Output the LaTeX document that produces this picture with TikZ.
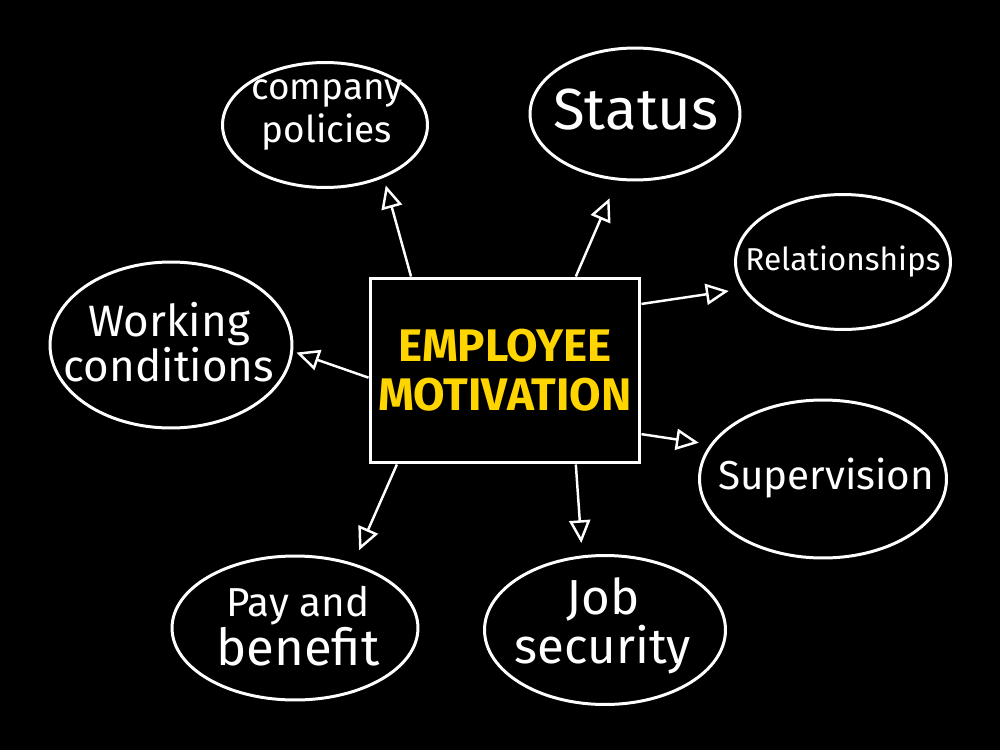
\documentclass[tikz,border=0pt]{standalone}
\usepackage{fontspec}
\setmainfont{Fira Sans}
\usetikzlibrary{shapes.geometric,arrows.meta}
\definecolor{markeryellow}{HTML}{FFD500}
\begin{document}
\begin{tikzpicture}[x=0.02cm, y=-0.02cm,
    every node/.style={text=white, align=center, inner sep=1pt},
    bubble/.style={ellipse, draw=white, line width=1.7pt, inner sep=0pt},
    topic/.style={rectangle, draw=white, line width=1.7pt},
    branch/.style={draw=white, line width=1.4pt, -{Triangle[open, length=13pt, width=12pt]}}]
\fill[black] (0,0) rectangle (1000,750);
\useasboundingbox (0,0) rectangle (1000,750);
    \node[topic, minimum width=5.4cm, minimum height=3.7cm, text=markeryellow,
          font=\fontsize{26}{28}\selectfont\bfseries] (mm) at (505,370.5) {EMPLOYEE\\MOTIVATION};
    % bubbles
    \node[bubble, minimum width=4.1cm, minimum height=2.5cm] (cp) at (325,125) {};
    \node[bubble, minimum width=4.2cm, minimum height=2.64cm] (st) at (635,114) {};
    \node[bubble, minimum width=4.3cm, minimum height=2.7cm] (rel) at (843,262) {};
    \node[bubble, minimum width=4.84cm, minimum height=3.32cm] (wc) at (171,345) {};
    \node[bubble, minimum width=4.94cm, minimum height=3.16cm] (sup) at (823,479) {};
    \node[bubble, minimum width=4.92cm, minimum height=2.88cm] (pay) at (295,628) {};
    \node[bubble, minimum width=4.82cm, minimum height=2.98cm] (job) at (605,630) {};
    % labels
    \node[font=\fontsize{21}{25}\selectfont] (cptext) at (327,115) {company\\policies};
    \node[font=\fontsize{33}{36}\selectfont] (sttext) at (636,110) {Status};
    \node[font=\fontsize{18}{20}\selectfont] (reltext) at (843,262) {Relationships};
    \node[font=\fontsize{25}{26}\selectfont] (wctext) at (169,342) {Working\\conditions};
    \node[font=\fontsize{23}{25}\selectfont] (suptext) at (826,478) {Supervision};
    \node (paytext) at (298,626) {\fontsize{23}{27}\selectfont Pay and\\\fontsize{29}{29}\selectfont benefit};
    \node[font=\fontsize{28}{28}\selectfont] (jobtext) at (603,626) {Job\\security};
    \foreach \from/\to/\gap in {mm.135/cp.-42/4.5pt, mm.53/st.-105/11pt,
        mm.26/rel.-165/8pt, mm.183/wc.-3/2pt, mm.-25.5/sup.163/6.5pt,
        mm.-139/pay.48/8pt, mm.-53/job.107/7pt}
        \draw[branch, shorten >=\gap] (\from) -- (\to);
\end{tikzpicture}
\end{document}
